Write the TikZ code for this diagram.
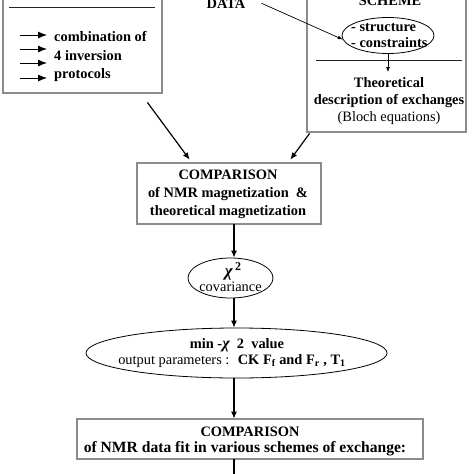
\documentclass[tikz,border=0pt]{standalone}
\usepackage{fontspec}
\setmainfont{Liberation Serif}
\usetikzlibrary{shapes.geometric,arrows.meta}
\begin{document}
\begin{tikzpicture}[x=1pt,y=-1pt,
  dbox/.style={draw=black!90, double=black!45, double distance=1.3pt, line width=0.8pt, inner sep=0pt},
  ell/.style={ellipse, draw=black, line width=0.8pt, inner sep=0pt},
  arr/.style={-{Latex[length=7pt,width=6pt]}, line width=1.2pt},
  thinarr/.style={-{Latex[length=5pt,width=4pt]}, line width=0.7pt},
  bt/.style={font=\fontsize{14.4}{16}\selectfont\bfseries, inner sep=0pt},
  nt/.style={font=\fontsize{14.4}{16}\selectfont, inner sep=0pt},
]
\useasboundingbox (0,0) rectangle (474,474);
\clip (0,0) rectangle (474,474);
\fill[white] (0,0) rectangle (474,474);

% left box
\node[dbox, minimum width=159pt, minimum height=123pt] (leftbox) at (82.5,31.5) {};
\draw[line width=0.8pt, black!85] (9,7.5) -- (155,7.5);
\foreach \yy in {35,49,63,78} {\draw[-{Latex[length=9pt,width=7pt]}, line width=0.9pt] (20,\yy) -- (47,\yy);}
\node[bt, anchor=base west] (t1) at (54,41) {combination of};
\node[bt, anchor=base west] (t2) at (54,60) {4 inversion};
\node[bt, anchor=base west] (t3) at (54,78.5) {protocols};

% top labels
\node[bt, anchor=base] (data) at (226,8) {DATA};
\node[bt, anchor=base] (scheme) at (390,5) {SCHEME};

% right box
\node[dbox, minimum width=159pt, minimum height=172pt] (rightbox) at (386.5,46) {};
\node[ell, minimum width=92pt, minimum height=36pt] (struct) at (388,35.5) {};
\node[bt, anchor=base west] (s1) at (351,31) {- structure};
\node[bt, anchor=base west] (s2) at (351,47) {- constraints};
\draw[line width=0.8pt, black!85] (316,60) -- (462,60);
\coordinate (sa) at (388,72);
\draw[thinarr] (struct.south) -- (sa);
\node[bt, anchor=base] (th1) at (389,87) {Theoretical};
\node[bt, anchor=base] (th2) at (389,104) {description of exchanges};
\node[nt, anchor=base] (th3) at (389,121) {(Bloch equations)};

\draw[thinarr] ([xshift=16pt]data.east) -- (struct.185);

% comparison 1
\node[dbox, minimum width=184pt, minimum height=61pt] (comp1) at (229,193.5) {};
\node[bt, anchor=base] (c1) at (228,179) {COMPARISON};
\node[bt, anchor=base] (c2) at (228,197) {of NMR magnetization \ \&};
\node[bt, anchor=base] (c3) at (228,215) {theoretical magnetization};

\draw[arr] ([shift={(-15,9)}]leftbox.south east) -- ([shift={(53,-3)}]comp1.north west);
\draw[arr] ([shift={(3,1)}]rightbox.south west) -- ([shift={(-31,-3)}]comp1.north east);

% chi ellipse
\node[ell, minimum width=85pt, minimum height=40pt] (chi) at (230.5,278) {};
\node[bt, anchor=base] (chit) at (233,276) {{\fontsize{17}{17}\selectfont\itshape χ}\,\raisebox{6pt}{\fontsize{12}{12}\selectfont 2}};
\node[nt, anchor=base] (cov) at (230.5,291) {covariance};
\draw[arr] ([xshift=5pt]comp1.south) -- ([xshift=3.5pt]chi.north);

% min ellipse
\node[ell, minimum width=301pt, minimum height=50pt] (minell) at (236.5,353) {};
\node[bt, anchor=base] (m1) at (237,348) {min -{\fontsize{16}{16}\selectfont\itshape χ} \ 2 \ value};
\node[nt, anchor=base] (m2) at (232,364) {output parameters : \ \textbf{CK F\textsubscript{f} and F\textsubscript{r} , T\textsubscript{1}}};
\draw[arr] ([xshift=3.5pt]chi.south) -- ([xshift=-2.5pt]minell.north);

% comparison 2
\node[dbox, minimum width=346pt, minimum height=40pt] (comp2) at (250,439) {};
\node[bt, anchor=base] (d1) at (250,436) {COMPARISON};
\node[bt, anchor=base, font=\fontsize{15.6}{17}\selectfont\bfseries] (d2) at (245,452) {of NMR data fit in various schemes of exchange:};
\draw[arr] ([xshift=-2.5pt]minell.south) -- ([xshift=-16pt]comp2.north);
\coordinate (bot) at (234,480);
\draw[line width=1.2pt] ([xshift=-16pt]comp2.south) -- (bot);
\end{tikzpicture}
\end{document}
